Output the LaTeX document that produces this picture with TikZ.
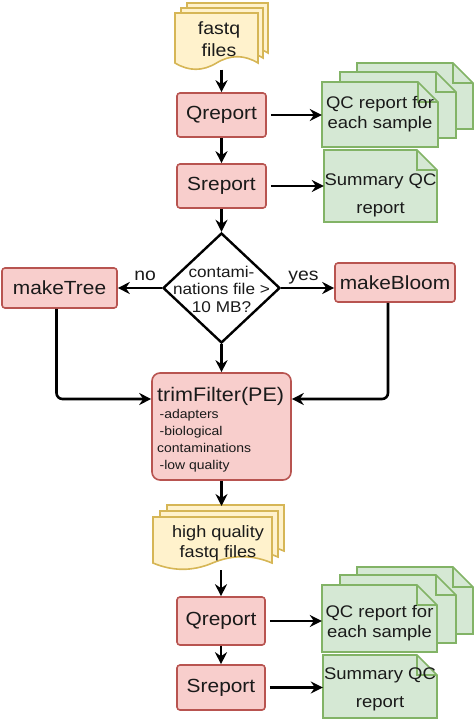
\documentclass[tikz,border=0pt]{standalone}
\usepackage{fontspec}
\setmainfont{Liberation Sans}[FakeStretch=1.1]
\usetikzlibrary{shapes.geometric,arrows.meta,calc}
\definecolor{redfill}{HTML}{F8CECC}
\definecolor{redline}{HTML}{B85450}
\definecolor{yelfill}{HTML}{FFF2CC}
\definecolor{yelline}{HTML}{D6B656}
\definecolor{grnfill}{HTML}{D5E8D4}
\definecolor{grnline}{HTML}{82B366}
\definecolor{txt}{HTML}{1A1A1A}
% x0, x1, top, end-y of wavy bottom
\newcommand{\yeldoc}[4]{%
  \filldraw[docsty] (#1,#3) -- (#2,#3) -- (#2,#4)
    .. controls ({#2-(#2-#1)/6},#4+8.4) and ({#2-(#2-#1)/3},#4+8.4) .. ({(#1+#2)/2},#4)
    .. controls ({#1+(#2-#1)/3},#4-8.4) and ({#1+(#2-#1)/6},#4-8.4) .. (#1,#4) -- cycle;}
% x0, x1, top, bottom
\newcommand{\gnote}[4]{%
  \filldraw[notesty] (#1,#3) -- (#2-20,#3) -- (#2,#3-20) -- (#2,#4) -- (#1,#4) -- cycle;
  \draw[notesty, fill=none] (#2-20,#3) -- (#2-20,#3-20) -- (#2,#3-20);}
\begin{document}
\begin{tikzpicture}[x=1pt,y=1pt,
  proc/.style={draw=redline, fill=redfill, line width=1.6pt, rounded corners=3pt,
    minimum width=89pt, minimum height=44pt, inner sep=0pt, text=txt,
    font=\fontsize{19}{22}\selectfont},
  arr/.style={line width=2.6pt, -{Stealth[length=12pt,width=12pt,inset=4pt]}},
  docsty/.style={draw=yelline, fill=yelfill, line width=1.6pt},
  notesty/.style={draw=grnline, fill=grnfill, line width=1.6pt},
  lbl/.style={inner sep=0pt, align=center, text=txt},
  qcfont/.style={font=\fontsize{16.8}{20}\selectfont},
  sumfont/.style={font=\fontsize{16.8}{28}\selectfont},
]
\useasboundingbox (0,0) rectangle (474,-719);

% ---- input fastq files
\yeldoc{187}{268}{-3}{-53}
\yeldoc{181}{263}{-8}{-58}
\yeldoc{175}{258}{-13}{-63}
\node[lbl, minimum width=83pt, minimum height=60pt, font=\fontsize{17.7}{22}\selectfont]
  (fq) at (219,-39.5) {fastq\\files};

% ---- first report pair
\node[proc] (q1) at (221.5,-115) {Qreport};
\node[proc] (s1) at (221.5,-186) {Sreport};

\gnote{357}{473}{-63}{-129}
\gnote{340}{456}{-72}{-138}
\gnote{322}{438}{-82}{-147}
\node[lbl, qcfont, minimum width=116pt, minimum height=65pt] (qc1) at (380,-114.5) {QC report for\\each sample};

\gnote{324}{437}{-150}{-222}
\node[lbl, sumfont, minimum width=113pt, minimum height=72pt] (sm1) at (380.5,-195) {Summary QC\\report};

% ---- decision
\node[draw, diamond, line width=2.4pt, minimum width=117pt, minimum height=110pt,
  inner sep=0pt, fill=white] (d) at (221.5,-288) {};
\node[lbl, font=\fontsize{15.6}{17.5}\selectfont] (dt) at (221.5,-289) {contami-\\nations file >\\10 MB?};

\node[proc, minimum width=115pt, minimum height=40pt] (mt) at (59.5,-288) {makeTree};
\node[proc, minimum width=120pt, minimum height=39pt] (mb) at (395,-282.5) {makeBloom};

% ---- trimFilter
\node[proc, rounded corners=8pt, minimum width=139pt, minimum height=107pt] (tf) at (221.5,-426.5) {};
\node[anchor=north west, inner sep=0pt, align=left, text=txt,
  font=\fontsize{12.7}{17}\selectfont] (tft) at (157,-387)
  {{\fontsize{19.6}{17}\selectfont trimFilter(PE)}\\
   \hspace{2.5pt}-adapters\\
   \hspace{2.5pt}-biological\\
   contaminations\\
   \hspace{2.5pt}-low quality};
\coordinate (yl) at (0,-399);

% ---- high quality fastq files
\yeldoc{167}{284}{-505}{-551}
\yeldoc{160}{278}{-511}{-557}
\yeldoc{153}{272}{-517}{-563}
\node[lbl, minimum width=119pt, minimum height=54pt, font=\fontsize{16.5}{20}\selectfont]
  (hq) at (218,-543) {high quality\\fastq files};
\coordinate (hqtop) at (0,-506);

% ---- second report pair
\node[proc, minimum width=88pt, minimum height=48pt] (q2) at (221,-621) {Qreport};
\node[proc, minimum width=88pt, minimum height=45pt] (s2) at (221,-687.5) {Sreport};

\gnote{357}{473}{-567}{-634}
\gnote{340}{456}{-575}{-643}
\gnote{322}{437}{-585}{-652}
\node[lbl, qcfont, minimum width=115pt, minimum height=67pt] (qc2) at (379.5,-623) {QC report for\\each sample};

\gnote{323}{437}{-655}{-718}
\node[lbl, sumfont, minimum width=114pt, minimum height=63pt] (sm2) at (380,-689) {Summary QC\\report};

% ---- connectors
\draw[arr] (fq.south -| q1.north) -- (q1.north);
\draw[arr] (q1.south) -- (s1.north);
\draw[arr] ([xshift=4pt]q1.east) -- (q1.east -| qc1.west);
\draw[arr] ([xshift=4pt]s1.east) -- (s1.east -| sm1.west);
\draw[arr] (s1.south) -- (d.north);
\draw[arr] (d.west) -- (d.west -| mt.east) node[pos=0.38, above=6pt, lbl, font=\fontsize{17.6}{20}\selectfont] (no) {no};
\draw[arr] (d.east) -- (d.east -| mb.west) node[pos=0.42, above=3pt, lbl, font=\fontsize{17.6}{20}\selectfont] (yes) {yes};
\draw[arr] (d.south) -- (tf.north);
\draw[arr, rounded corners=6pt] ([xshift=-3pt]mt.south) |- (tf.west |- yl);
\draw[arr, rounded corners=6pt] ([xshift=-7pt]mb.south) |- (tf.east |- yl);
\draw[arr] (tf.south) -- (tf.south |- hqtop);
\draw[arr] (hq.south -| q2.north) -- (q2.north);
\draw[arr] (q2.south) -- (s2.north);
\draw[arr] ([xshift=4pt]q2.east) -- (q2.east -| qc2.west);
\draw[arr] ([xshift=4pt]s2.east) -- (s2.east -| sm2.west);
\end{tikzpicture}
\end{document}
